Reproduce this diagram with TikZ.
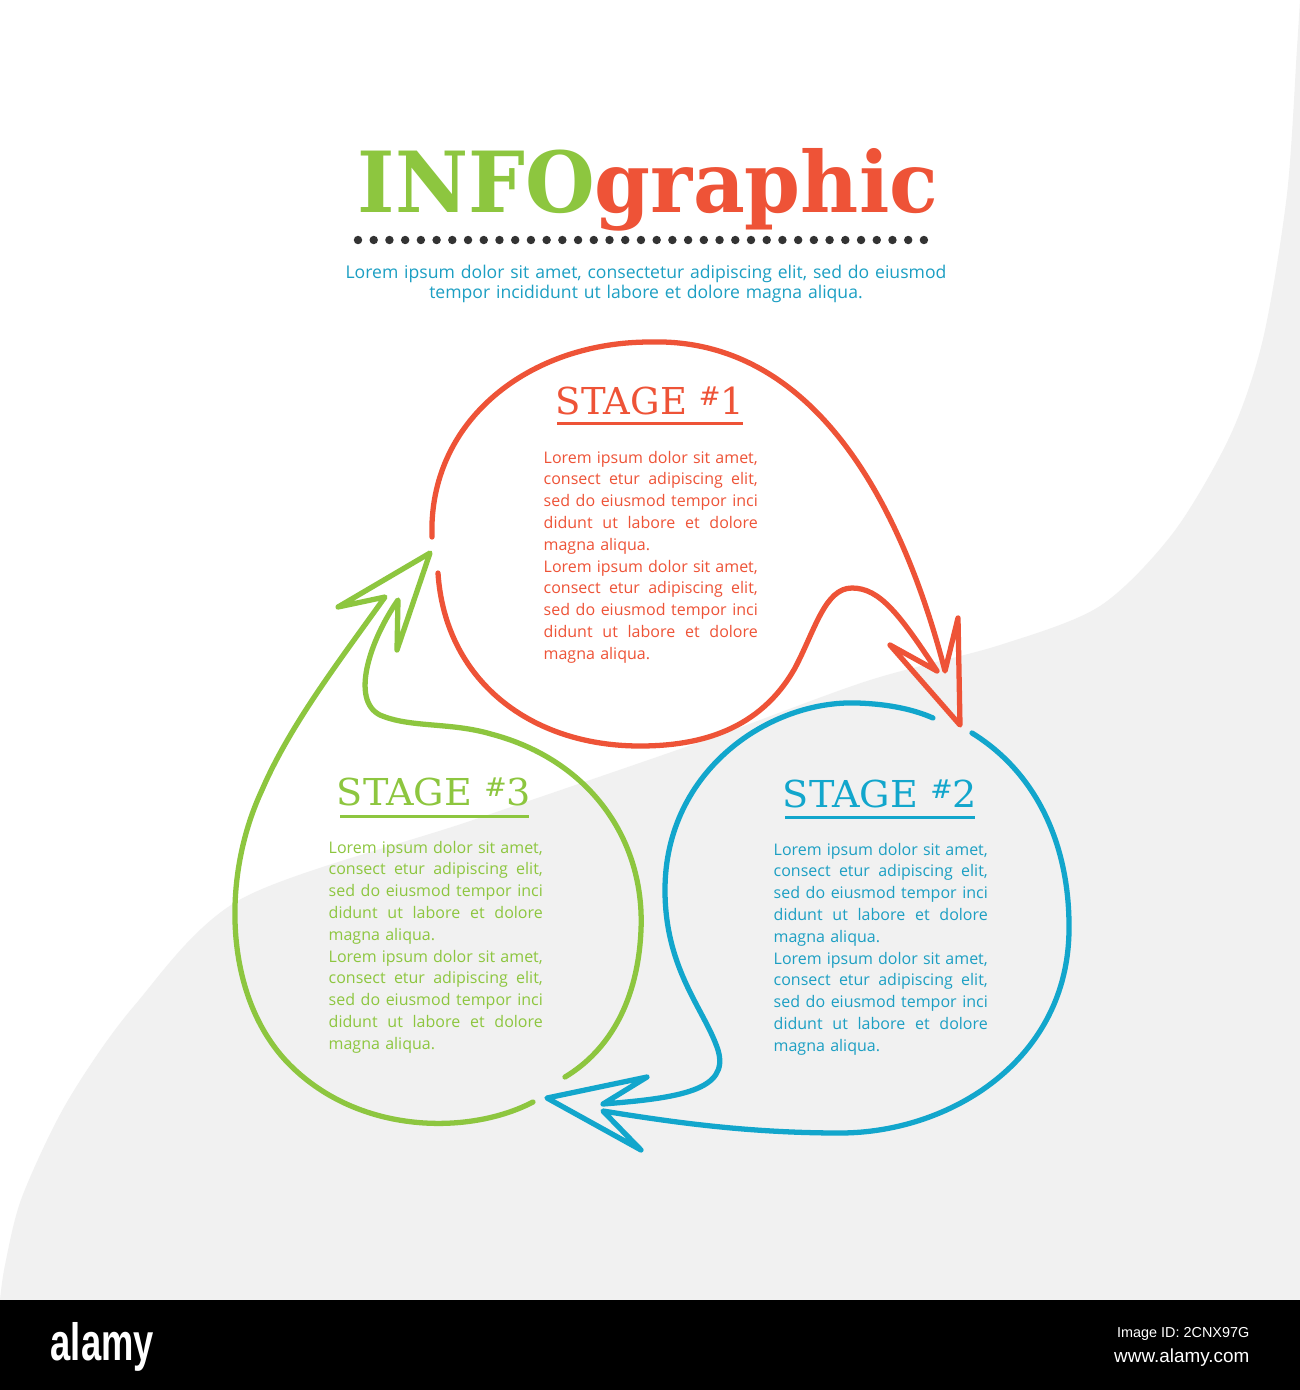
\documentclass[tikz,border=0pt]{standalone}
\usepackage{graphicx}
\usepackage{fontspec}
\setmainfont{Open Sans}
\newfontfamily\titlefont{DejaVu Serif}
\newfontfamily\markfont{Liberation Sans}
\usetikzlibrary{calc}

\definecolor{infogreen}{HTML}{8DC63F}
\definecolor{infored}{HTML}{EE5337}
\definecolor{infoblue}{HTML}{12A6CC}
\definecolor{textblue}{HTML}{1C9FC3}
\definecolor{bggray}{HTML}{F1F1F1}
\definecolor{dotgray}{HTML}{333333}

\newcommand{\hashmark}{\raisebox{0.22em}{\scalebox{0.7}{\#}}}
\newcommand{\fillline}[1]{{\spaceskip=0.26em plus 1fil\makebox[2.14cm][s]{#1}}}
\newcommand{\stagebody}{%
  \fillline{Lorem ipsum dolor sit amet,}\\
  \fillline{consect etur adipiscing elit,}\\
  \fillline{sed do eiusmod tempor inci}\\
  \fillline{didunt ut labore et dolore}\\
  magna aliqua.\\
  \fillline{Lorem ipsum dolor sit amet,}\\
  \fillline{consect etur adipiscing elit,}\\
  \fillline{sed do eiusmod tempor inci}\\
  \fillline{didunt ut labore et dolore}\\
  magna aliqua.}

\tikzset{
  loopline/.style={line width=1.5pt, line cap=round, line join=round},
  heading/.style={font=\titlefont, inner sep=0pt, anchor=base},
  bodytext/.style={font=\fontsize{4.55}{6.2}\selectfont, text width=2.14cm, align=left, inner sep=0pt, anchor=base west},
  underline/.style={line width=0.85pt},
}

\begin{document}
\begin{tikzpicture}[x=0.01cm, y=-0.01cm]

  \useasboundingbox (0,0) rectangle (1300,1390);
  \fill[white] (0,0) rectangle (1300,1300);
  % grey sweep behind the lower half
  \fill[bggray] plot[smooth] coordinates {(1300,0) (1297,48) (1287,194) (1263,339) (1230,436) (1173,533) (1100,606) (1000,645) (867,681) (700,742) (470,821) (241,899) (134,1006) (67,1102) (22,1197) (5,1265) (0,1300)} -- (1300,1300) -- cycle;
  \fill[black] (0,1300) rectangle (1300,1390);

  % title
  \node[anchor=base, inner sep=0pt, font=\titlefont\bfseries] (title) at (648,212)
    {\resizebox{5.8cm}{0.64cm}{\textcolor{infogreen}{INFO}\textcolor{infored}{graphic}}};
  \foreach \i in {0,...,36}
    \fill[dotgray] (358+15.72*\i,240) circle[radius=1.2pt];
  \node[anchor=base, inner sep=0pt, text width=7cm, align=center, text=textblue,
        font=\fontsize{5.0}{5.85}\selectfont] (sub) at (646,278)
    {Lorem ipsum dolor sit amet, consectetur adipiscing elit, sed do eiusmod\\
     tempor incididunt ut labore et dolore magna aliqua.};

  % stage 1 loop
  \draw[loopline, infored] (432,537) .. controls (428,420) and (530,342) .. (650,342)
    .. controls (790,338) and (890,460) .. (945,671)
    -- (958,618) -- (960,725) -- (890,645) -- (937,671)
    .. controls (900,615) and (880,588) .. (852,588)
    .. controls (825,588) and (815,630) .. (795,668)
    .. controls (760,730) and (700,746) .. (640,746)
    .. controls (530,746) and (445,680) .. (438,573);

  % stage 2 loop
  \draw[loopline, infoblue] (972,733) .. controls (1040,775) and (1070,850) .. (1069,930)
    .. controls (1068,1060) and (950,1133) .. (840,1133)
    .. controls (740,1133) and (660,1120) .. (603,1111)
    -- (641,1150) -- (547,1098) -- (647,1077) -- (603,1104)
    .. controls (680,1098) and (730,1090) .. (718,1050)
    .. controls (705,1010) and (665,970) .. (665,890)
    .. controls (665,770) and (770,700) .. (857,703)
    .. controls (890,704) and (915,710) .. (933,718);

  % stage 3 loop
  \draw[loopline, infogreen] (533,1102) .. controls (470,1135) and (360,1135) .. (290,1065)
    .. controls (225,1000) and (220,880) .. (262,790)
    .. controls (290,725) and (340,660) .. (385,597)
    -- (338,607) -- (430,553) -- (397,650) -- (398,600)
    .. controls (370,640) and (350,700) .. (380,715)
    .. controls (410,728) and (450,722) .. (491,734)
    .. controls (590,760) and (645,840) .. (641,930)
    .. controls (638,1000) and (610,1050) .. (565,1077);

  % stage headings
  \node[heading, text=infored] (head1) at (650,414) {\resizebox{1.88cm}{0.275cm}{STAGE \hashmark1}};
  \node[heading, text=infoblue] (head2) at (880,807) {\resizebox{1.94cm}{0.275cm}{STAGE \hashmark2}};
  \node[heading, text=infogreen] (head3) at (434,805) {\resizebox{1.94cm}{0.275cm}{STAGE \hashmark3}};
  \draw[underline, infored] ($(head1.base west)+(2,9)$) -- ($(head1.base east)+(-2,9)$);
  \draw[underline, infoblue] ($(head2.base west)+(3,10)$) -- ($(head2.base east)+(-3,10)$);
  \draw[underline, infogreen] ($(head3.base west)+(4,11)$) -- ($(head3.base east)+(-3,11)$);

  % stage texts
  \node[bodytext, text=infored] (body1) at (543,463) {\stagebody};
  \node[bodytext, text=textblue] (body2) at (773,855) {\stagebody};
  \node[bodytext, text=infogreen] (body3) at (328,853) {\stagebody};

  % footer bar
  \node[anchor=base west, inner sep=0pt, text=white, font=\markfont\bfseries] (brand) at (50,1360)
    {\resizebox{1.03cm}{0.38cm}{alamy}};
  \node[anchor=base east, inner sep=0pt, text=white, font=\markfont] (imgid) at (1250,1337)
    {\resizebox{1.32cm}{!}{Image ID: 2CNX97G}};
  \node[anchor=base east, inner sep=0pt, text=white, font=\markfont] (site) at (1250,1362)
    {\resizebox{1.35cm}{!}{www.alamy.com}};

\end{tikzpicture}
\end{document}
